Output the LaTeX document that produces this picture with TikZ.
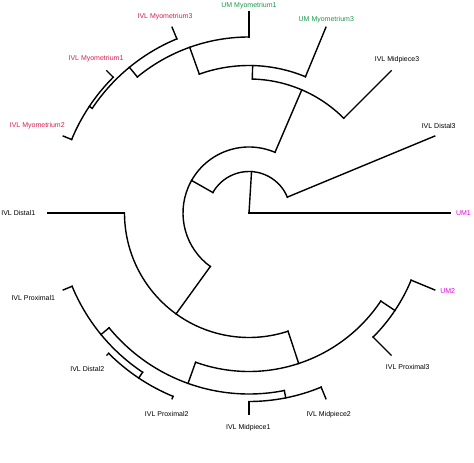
\documentclass[tikz,border=0pt]{standalone}
\usepackage{fontspec}
\setmainfont{Liberation Sans}
\usetikzlibrary{positioning}
\definecolor{MyoRed}{RGB}{215, 30, 80}
\definecolor{MyoGreen}{RGB}{25, 150, 75}
\definecolor{UMPink}{RGB}{225, 0, 225}

% arc of a clade: radius, from angle, to angle
\newcommand{\cladearc}[3]{\draw[branch] (#2:#1pt) arc[start angle=#2, end angle=#3, radius=#1pt];}

\begin{document}
\begin{tikzpicture}[x=1pt, y=1pt,
    branch/.style={line width=1.4pt, line cap=rect},
    leaflabel/.style={font=\fontsize{7}{8}\selectfont, inner sep=0pt}]
    \useasboundingbox (-249,-250) rectangle (225,213);

    % Nodes: name / angle / radius / radius of parent
    \foreach \n/\a/\r/\q in {A/86.48/41.5/0, B/150.47/66/41.5, D/66.8/134/66,
        E/88.59/147.5/134, F/109.69/176/147.5, G/129.38/188.5/176,
        H/146.25/192/188.5, I/234.14/124.5/66, J/288.28/158.5/124.5,
        K/250.31/181/158.5, L/326.25/175.5/158.5, M/219.38/191.5/181,
        N/236.25/198.5/191.5, P/281.25/188.5/181} {
      \coordinate (\n) at (\a:\r);
      \coordinate (\n0) at (\a:\q);
    }

    % Leaves: name / angle / radius of parent
    \foreach \n/\a/\q in {um1/0/0, distal3/22.5/41.5, midpiece3/45/134,
        ummyo3/67.5/147.5, ummyo1/90/176, myo3/112.5/188.5, myo1/135/192,
        myo2/157.5/192, distal1/180/124.5, proximal1/202.5/191.5,
        distal2/225/198.5, proximal2/247.5/198.5, midpiece1/270/188.5,
        midpiece2/292.5/188.5, proximal3/315/175.5, um2/337.5/175.5} {
      \coordinate (\n) at (\a:201);
      \coordinate (\n0) at (\a:\q);
    }

    % Radial branches
    \foreach \n in {A, B, D, E, F, G, H, I, J, K, L, M, N, P,
        um1, distal3, midpiece3, ummyo3, ummyo1, myo3, myo1, myo2, distal1,
        proximal1, distal2, proximal2, midpiece1, midpiece2, proximal3, um2}
      \draw[branch] (\n0) -- (\n);

    % Clade arcs
    \cladearc{41.5}{22.5}{150.47}
    \cladearc{66}{66.8}{234.14}
    \cladearc{134}{45}{88.59}
    \cladearc{147.5}{67.5}{109.69}
    \cladearc{176}{90}{129.38}
    \cladearc{188.5}{112.5}{146.25}
    \cladearc{192}{135}{157.5}
    \cladearc{124.5}{180}{288.28}
    \cladearc{158.5}{250.31}{326.25}
    \cladearc{181}{219.38}{281.25}
    \cladearc{191.5}{202.5}{236.25}
    \cladearc{198.5}{225}{247.5}
    \cladearc{188.5}{270}{292.5}
    \cladearc{175.5}{315}{337.5}

    % Leaf labels
    \node[leaflabel, UMPink] (lum1) at (214.5,-0.3) {UM1};
    \node[leaflabel, UMPink] (lum2) at (198.7,-77.7) {UM2};
    \node[leaflabel] (lproximal3) at (158.7,-153.7) {IVL Proximal3};
    \node[leaflabel] (lmidpiece2) at (79.7,-202) {IVL Midpiece2};
    \node[leaflabel] (lmidpiece1) at (-0.7,-214.3) {IVL Midpiece1};
    \node[leaflabel] (lproximal2) at (-82.3,-201.3) {IVL Proximal2};
    \node[leaflabel] (ldistal2) at (-161.7,-156) {IVL Distal2};
    \node[leaflabel] (lproximal1) at (-215.7,-85.3) {IVL Proximal1};
    \node[leaflabel] (ldistal1) at (-230.7,-0.3) {IVL Distal1};
    \node[leaflabel, MyoRed] (lmyo2) at (-211.7,87.3) {IVL Myometrium2};
    \node[leaflabel, MyoRed] (lmyo1) at (-153,154.7) {IVL Myometrium1};
    \node[leaflabel, MyoRed] (lmyo3) at (-84,196.3) {IVL Myometrium3};
    \node[leaflabel, MyoGreen] (lummyo1) at (0,207.5) {UM Myometrium1};
    \node[leaflabel, MyoGreen] (lummyo3) at (77.3,193) {UM Myometrium3};
    \node[leaflabel] (lmidpiece3) at (148,153.7) {IVL Midpiece3};
    \node[leaflabel] (ldistal3) at (189.7,87) {IVL Distal3};
\end{tikzpicture}
\end{document}
